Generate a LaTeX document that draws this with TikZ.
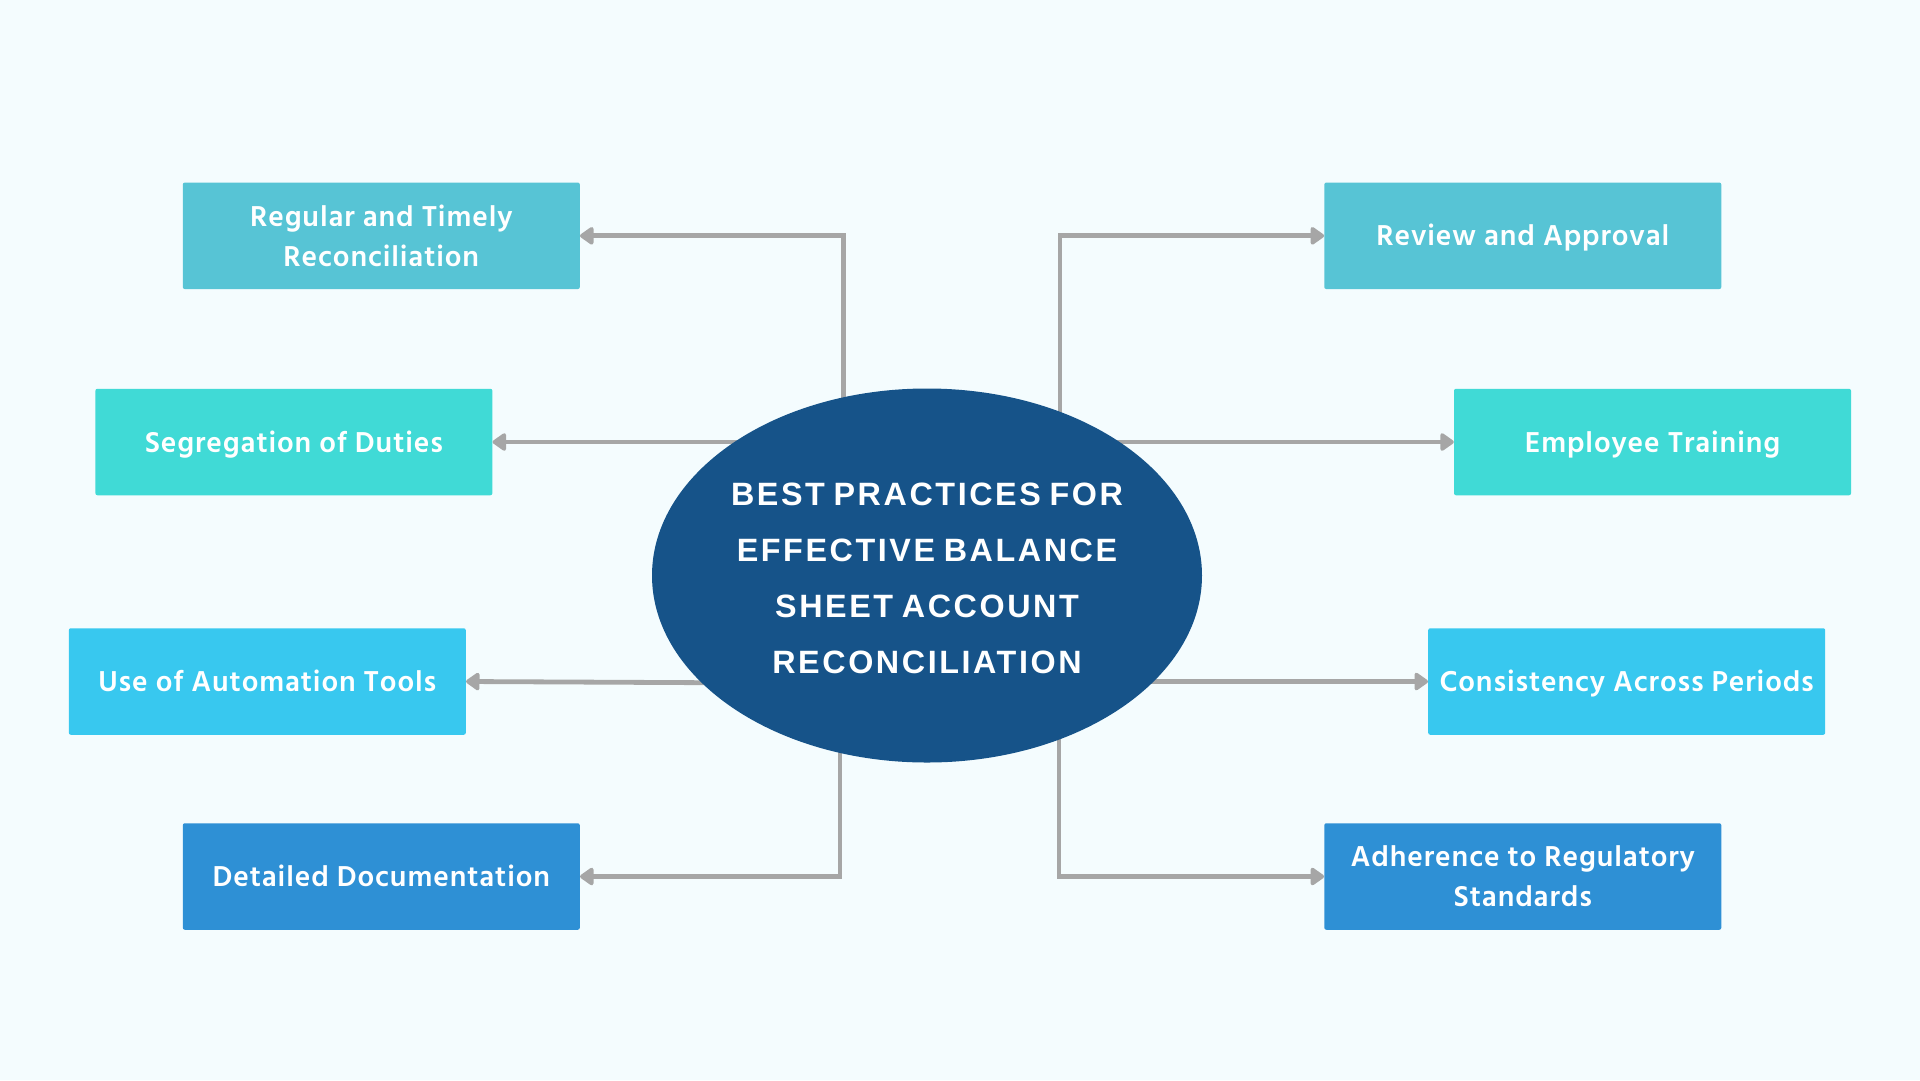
\documentclass[tikz,border=0pt]{standalone}
\usepackage{fontspec}
\usetikzlibrary{arrows.meta,calc,shapes.geometric}
\setmainfont{Liberation Sans}
\newfontfamily\titlefont{Liberation Sans Bold}[LetterSpace=8,WordSpace=0.75]
\newfontfamily\boxfont{Hind Siliguri SemiBold}[LetterSpace=3]
\definecolor{bgc}{HTML}{F4FCFE}
\definecolor{cA}{HTML}{57C4D5}
\definecolor{cB}{HTML}{40DAD6}
\definecolor{cC}{HTML}{38C8EF}
\definecolor{cD}{HTML}{2E90D5}
\definecolor{cE}{HTML}{165389}
\definecolor{gr}{HTML}{A6A6A6}
\tikzset{
  box/.style={rectangle, rounded corners=2pt, minimum width=397pt, minimum height=106.5pt,
    inner sep=0pt, text=white, align=center, font=\boxfont\fontsize{29.5}{39.7}\selectfont},
  boxone/.style={box, text height=20pt, text depth=0pt},
  conn/.style={draw=gr, line width=4.8pt, -{Triangle[length=15pt,width=20pt,round]}},
}
\begin{document}
\begin{tikzpicture}[x=1pt,y=-1pt]
\useasboundingbox (0,0) rectangle (1920,1080);
\fill[bgc] (0,0) rectangle (1920,1080);
\node[box, fill=cA] (b1) at (381.3,235.8) {Regular and Timely\\Reconciliation};
\node[boxone, fill=cA] (b2) at (1522.8,235.8) {Review and Approval};
\node[boxone, fill=cB] (b3) at (293.9,442) {Segregation of Duties};
\node[boxone, fill=cB] (b4) at (1652.5,442) {Employee Training};
\node[boxone, fill=cC] (b5) at (267.3,681.5) {Use of Automation Tools};
\node[boxone, fill=cC] (b6) at (1626.7,681.5) {Consistency Across Periods};
\node[boxone, fill=cD] (b7) at (381.3,876.5) {Detailed Documentation};
\node[box, fill=cD] (b8) at (1522.8,876.5) {Adherence to Regulatory\\Standards};
\coordinate (c) at (927,575.5);
\draw[conn] ($(c)+(-83.5,0)$) |- (b1.east);
\draw[conn] ($(c)+(133,0)$) |- (b2.west);
\draw[conn] ($(c)+(0,-133.5)$) -- (b3.east);
\draw[conn] ($(c)+(0,-133.5)$) -- (b4.west);
\draw[conn] ($(c)+(-100,107.8)$) -- (b5.east);
\draw[conn] ($(c)+(0,106)$) -- (b6.west);
\draw[conn] ($(c)+(-87,0)$) |- (b7.east);
\draw[conn] ($(c)+(132,0)$) |- (b8.west);
\node[ellipse, fill=cE, minimum width=550pt, minimum height=374pt, inner sep=0pt] (e) at (c) {};
\node[text=white, align=center, inner sep=0pt,
  font=\titlefont\fontsize{32.3}{55.9}\selectfont] (t) at ($(e.center)+(0,3)$)
  {BEST PRACTICES FOR\\EFFECTIVE BALANCE\\SHEET ACCOUNT\\RECONCILIATION};
\end{tikzpicture}
\end{document}
